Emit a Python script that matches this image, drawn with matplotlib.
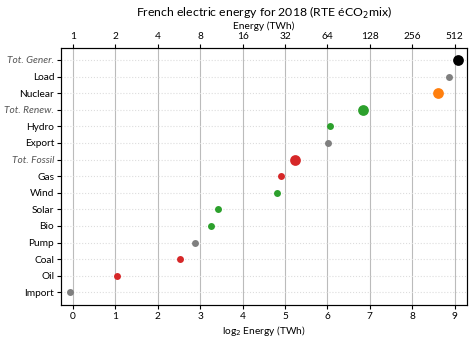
import numpy as np
import matplotlib.pyplot as plt

plt.rcParams['font.family'] = ['Lato', 'DejaVu Sans']

# categories from bottom to top, log2 of energy in TWh
labels = ['Import', 'Oil', 'Coal', 'Pump', 'Bio', 'Solar', 'Wind', 'Gas',
          'Tot. Fossil', 'Export', 'Hydro', 'Tot. Renew.', 'Nuclear', 'Load', 'Tot. Gener.']
log2_energy = [-0.07, 1.04, 2.52, 2.88, 3.25, 3.42, 4.81, 4.90,
               5.24, 6.01, 6.06, 6.84, 8.61, 8.87, 9.08]
kinds = ['flow', 'fossil', 'fossil', 'flow', 'renew', 'renew', 'renew', 'fossil',
         'fossil', 'flow', 'renew', 'renew', 'nuclear', 'flow', 'total']
is_total = [False, False, False, False, False, False, False, False,
            True, False, False, True, False, False, True]

colors = {'flow': 'tab:gray', 'fossil': 'tab:red', 'renew': 'tab:green',
          'nuclear': 'tab:orange', 'total': 'black'}

fig, ax = plt.subplots(figsize=(4.74, 3.4), dpi=100)
fig.subplots_adjust(left=0.129, right=0.985, top=0.859, bottom=0.103)

y = np.arange(len(labels))
for i in range(len(labels)):
    big = is_total[i] or kinds[i] == 'nuclear'
    ax.scatter(log2_energy[i], y[i], s=60 if big else 25,
               color=colors[kinds[i]], zorder=3, linewidths=0)

ax.set_yticks(y)
ax.set_yticklabels(labels, fontsize=7.3)
for lab, tot in zip(ax.get_yticklabels(), is_total):
    if tot:
        lab.set_style('italic')
        lab.set_color('#555555')
ax.set_ylim(-0.76, len(labels) - 0.28)

ax.set_xlim(-0.28, 9.29)
ax.set_xticks(range(10))
ax.tick_params(axis='both', labelsize=7.3, length=3, pad=2)
ax.set_xlabel('log$_2$ Energy (TWh)', fontsize=7.3, labelpad=2)
ax.xaxis.grid(True, color='#bbbbbb', linewidth=0.8)
ax.yaxis.grid(True, color='#dddddd', linestyle=':', linewidth=0.8)
ax.set_axisbelow(True)
for sp in ax.spines.values():
    sp.set_color('#333333')

top = ax.twiny()
top.set_xlim(ax.get_xlim())
top.set_xticks(range(10))
top.set_xticklabels([str(2 ** k) for k in range(10)], fontsize=7.3)
top.tick_params(axis='x', length=3, pad=2)
top.set_xlabel('Energy (TWh)', fontsize=7.3, labelpad=2)

ax.set_title('French electric energy for 2018 (RTE éCO$_2$mix)', fontsize=8.8, pad=3.5)

plt.savefig('out.png')
